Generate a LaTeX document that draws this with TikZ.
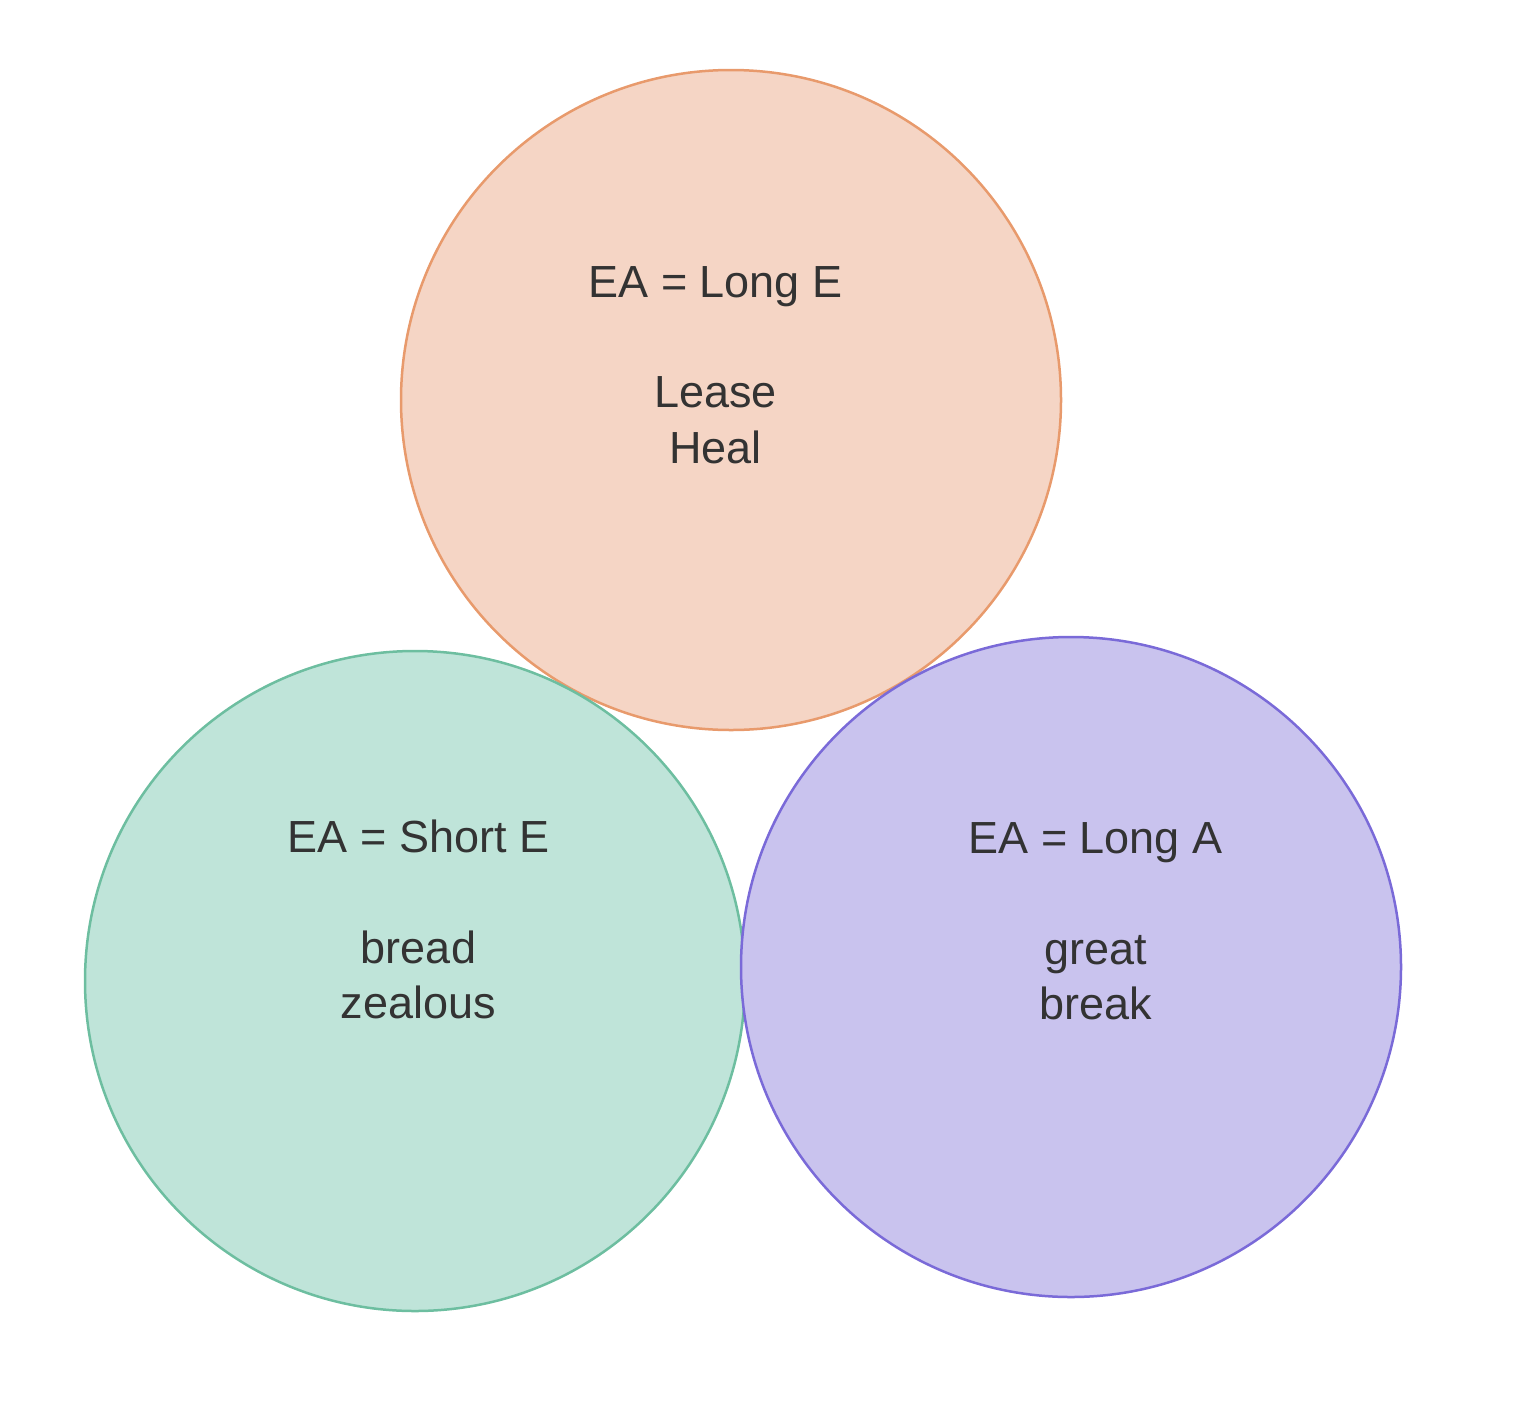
\documentclass[tikz,border=0pt]{standalone}
\usepackage{fontspec}
\setmainfont{Liberation Sans}
\definecolor{ofill}{HTML}{F5D5C5}
\definecolor{odraw}{HTML}{E89A6C}
\definecolor{gfill}{HTML}{BFE4D9}
\definecolor{gdraw}{HTML}{6DBEA0}
\definecolor{pfill}{HTML}{C9C3EE}
\definecolor{pdraw}{HTML}{7A6AD8}
\definecolor{txt}{HTML}{333333}
\begin{document}
\begin{tikzpicture}[x=1pt,y=-1pt,
  venn/.style={circle,minimum size=660pt,inner sep=0pt,line width=2.5pt},
  lbl/.style={anchor=base,inner sep=0pt,text=txt,font=\fontsize{45}{54}\selectfont}]
\useasboundingbox (0,0) rectangle (1514,1422);
\node[venn,fill=ofill,draw=odraw] (top) at (731,400) {};
\node[venn,fill=gfill,draw=gdraw] (left) at (415,981) {};
\node[venn,fill=pfill,draw=pdraw] (right) at (1071,967) {};
\node[lbl] (t1) at (715.5,297) {EA = Long E};
\node[lbl] (t2) at (715.5,407) {Lease};
\node[lbl] (t3) at (715.5,463) {Heal};
\node[lbl] (l1) at (418.5,852) {EA = Short E};
\node[lbl] (l2) at (418.5,963) {bread};
\node[lbl] (l3) at (418.5,1018) {zealous};
\node[lbl] (r1) at (1095.5,853) {EA = Long A};
\node[lbl] (r2) at (1095.5,964) {great};
\node[lbl] (r3) at (1095.5,1019) {break};
\end{tikzpicture}
\end{document}
